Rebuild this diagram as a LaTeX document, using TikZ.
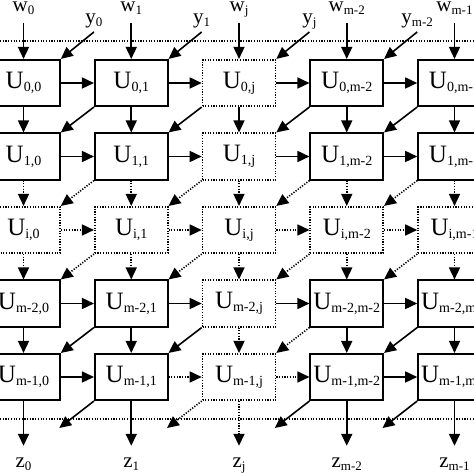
\documentclass[tikz,border=0pt]{standalone}
\usepackage{fontspec}
\setmainfont{Liberation Serif}
\usetikzlibrary{arrows.meta,calc}
\newcommand{\ix}[2][14]{\raisebox{-3pt}{\fontsize{#1}{#1}\selectfont #2}}

\begin{document}
\begin{tikzpicture}[x=1pt,y=1pt,
    b/.style={draw,line width=1.6pt,minimum width=73pt,minimum height=46.5pt,
      inner sep=0pt,font=\fontsize{25}{25}\selectfont},
    db/.style={b,dash pattern=on 1.2pt off 1.5pt},
    a/.style={-{Triangle[length=12pt,width=11pt]},line width=1.6pt},
    da/.style={a,dash pattern=on 1.2pt off 1.5pt},
    lw/.style={font=\fontsize{21}{21}\selectfont,anchor=base,text height=9pt,
      text depth=3pt,inner xsep=0pt,inner ysep=7.7pt},
    lz/.style={lw,inner ysep=13pt},
    rule/.style={line width=1.2pt,dash pattern=on 1.2pt off 1.5pt}]
  \useasboundingbox (0,0) rectangle (474,474);
  \clip (0,0) rectangle (474,474);
  \draw[rule] (0,433) -- (474,433);
  \draw[rule] (0,55) -- (474,55);
  \foreach \row/\rs in {0/0,1/1,2/i,3/m-2,4/m-1}
    \foreach \col/\cs in {0/0,1/1,2/j,3/m-2,4/m-1}{
      \ifnum\row=2 \def\bs{db}\else\ifnum\col=2 \def\bs{db}\else\def\bs{b}\fi\fi
      \node[\bs] (u\row\col) at (23.5+107.75*\col,391-73.5*\row) {U\ix{\rs,\cs}};
    }
  % inputs and outputs
  \foreach \col/\cs in {0/0,1/1,2/j,3/m-2,4/m-1}{
    \node[lw] (w\col) at (23.5+107.75*\col,462) {w\ix[13]{\cs}};
    \draw[a] (w\col) -- (u0\col);
    \node[lz] (z\col) at (23.5+107.75*\col,6) {z\ix[13]{\cs}};
  }
  \foreach \col/\cs [count=\n] in {0/0,1/1,2/j,3/m-2}{
    \coordinate (ys\col) at ($(u0\n.north west)+(0,27)$);
    \node[lw] (y\col) at ($(ys\col)+(0,8.75)$) {y\ix[13]{\cs}};
    \draw[a] (ys\col) -- (u0\col.north east);
  }
  \foreach \col in {0,1,3,4} \draw[a] (u4\col) -- (z\col);
  \draw[da] (u42) -- (z2);
  % horizontal
  \foreach \row in {0,1,3}
    \foreach \col [count=\n] in {0,...,3} \draw[a] (u\row\col) -- (u\row\n);
  \foreach \col [count=\n] in {0,...,3} \draw[da] (u2\col) -- (u2\n);
  \draw[a] (u40) -- (u41); \draw[da] (u41) -- (u42);
  \draw[da] (u42) -- (u43); \draw[a] (u43) -- (u44);
  % vertical
  \foreach \col in {0,...,4}{
    \draw[a] (u0\col) -- (u1\col);
    \draw[da] (u1\col) -- (u2\col);
    \draw[da] (u2\col) -- (u3\col);
  }
  \foreach \col in {0,1,3,4} \draw[a] (u3\col) -- (u4\col);
  \draw[da] (u32) -- (u42);
  % diagonal
  \foreach \col [count=\n] in {0,...,3}{
    \draw[a] (u0\n.south west) -- (u1\col.north east);
    \draw[da] (u1\n.south west) -- (u2\col.north east);
    \draw[da] (u2\n.south west) -- (u3\col.north east);
  }
  \foreach \col/\n in {0/1,1/2,3/4} \draw[a] (u3\n.south west) -- (u4\col.north east);
  \draw[da] (u33.south west) -- (u42.north east);
  \foreach \col in {1,...,4}
    \coordinate (e\col) at ($(u4\col.south west)+(-34.75,-27)$);
  \foreach \col in {1,3,4} \draw[a] (u4\col.south west) -- (e\col);
  \draw[da] (u42.south west) -- (e2);
\end{tikzpicture}
\end{document}
